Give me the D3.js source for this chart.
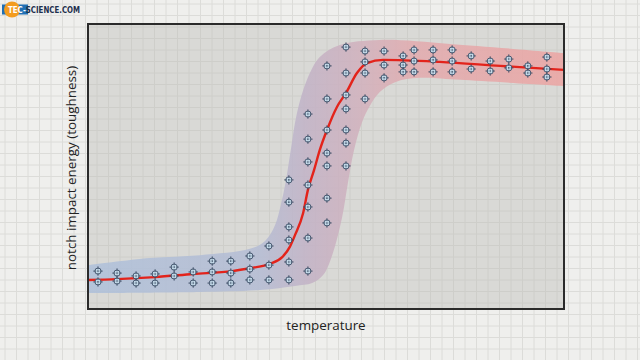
<!DOCTYPE html>
<html><head><meta charset="utf-8">
<script src="https://cdn.jsdelivr.net/npm/d3@7"></script>
<style>html,body{margin:0;padding:0;background:#efefed;}svg{display:block;}</style>
</head><body>
<svg id="chart" width="640" height="360"></svg>
<script>
// ---- data (temperature / notch impact energy, arbitrary 0-100 units) ----
const sampleTemps = [2.1, 6.1, 10.1, 14.1, 18.1, 22.1, 26.1, 30.0, 34.0, 38.0, 42.2, 46.2, 50.2, 54.2, 58.2, 62.2, 66.2, 68.5, 72.5, 76.5, 80.5, 84.5, 88.4, 92.4, 96.4];
const sampleEnergies = [
  [13.3, 9.5], [12.6, 9.8], [11.6, 9.1], [12.3, 9.1], [14.7, 11.6], [13.0, 9.1],
  [16.8, 13.0, 9.1], [16.8, 12.6, 9.1], [18.6, 14.0, 10.2], [22.1, 15.4, 10.2],
  [45.3, 37.5, 28.8, 24.2, 16.5, 10.2],
  [68.4, 59.6, 51.6, 43.5, 35.8, 24.9, 13.3],
  [85.3, 73.7, 62.8, 54.7, 50.2, 38.9, 30.2],
  [91.9, 82.8, 75.1, 70.2, 62.8, 58.2, 50.2],
  [90.5, 86.7, 82.8, 73.7], [90.5, 85.6, 81.1], [88.8, 85.6, 83.2],
  [90.9, 87.0, 83.2], [90.9, 87.4, 83.2], [90.9, 87.0, 83.2],
  [88.8, 84.2], [87.0, 83.5], [87.7, 84.6], [85.3, 82.8], [88.4, 84.2, 81.4]
];
const curveTemps    = [0, 6.1, 14.1, 22.1, 30.3, 34.2, 38.2, 40.8, 42.4, 43.5, 45.2, 46.2, 47.5, 48.7, 50.2, 52.3, 54.2, 56.5, 58.6, 62.0, 73.9, 86.6, 100];
const curveEnergies = [10.2, 10.5, 11.2, 12.3, 13.3, 14.4, 15.8, 18.2, 21.8, 26.0, 33.7, 41.8, 48.8, 55.8, 62.8, 70.9, 75.8, 82.8, 86.3, 87.4, 86.7, 85.3, 83.9];
const bandUpperTemps    = [0, 13.0, 23.5, 34.0, 37.2, 39.3, 40.5, 41.6, 42.6, 43.9, 46.0, 48.7, 52.9, 61.3, 76.1, 100];
const bandUpperEnergies = [15.4, 17.9, 18.9, 21.1, 23.9, 29.5, 36.5, 45.3, 55.8, 68.8, 80.4, 88.4, 92.6, 94.4, 93.0, 89.8];
const bandLowerTemps    = [0, 23.5, 36.1, 43.5, 47.1, 49.4, 51.3, 53.4, 54.6, 55.9, 57.6, 59.2, 61.3, 64.5, 69.7, 78.2, 100];
const bandLowerEnergies = [5.6, 6.0, 6.7, 8.1, 9.1, 11.9, 18.9, 32.3, 44.2, 55.8, 65.6, 71.2, 76.1, 79.6, 81.1, 80.4, 78.2];
const xLabel = "temperature";
const yLabel = "notch impact energy (toughness)";

const W = 640, H = 360;
const svg = d3.select("#chart");
const defs = svg.append("defs");

// ---- grid paper background ----
const gridStep = 11.5;
const bg = svg.append("g");
bg.append("rect").attr("width", W).attr("height", H).attr("fill", "#efefed");
bg.selectAll("line.v").data(d3.range(5, W, gridStep)).join("line")
  .attr("x1", d => d).attr("x2", d => d).attr("y1", 0).attr("y2", H)
  .attr("stroke", "#dcdcd9").attr("stroke-width", 1);
bg.selectAll("line.h").data(d3.range(4, H, gridStep)).join("line")
  .attr("y1", d => d).attr("y2", d => d).attr("x1", 0).attr("x2", W)
  .attr("stroke", "#dcdcd9").attr("stroke-width", 1);

// ---- scales ----
const x = d3.scaleLinear().domain([0, 100]).range([88, 564]);
const y = d3.scaleLinear().domain([0, 100]).range([309, 24]);

// plot background
svg.append("rect").attr("x", x(0)).attr("y", y(100)).attr("width", x(100) - x(0)).attr("height", y(0) - y(100))
  .attr("fill", "rgba(185,185,180,0.40)");

defs.append("clipPath").attr("id", "clip").append("rect")
  .attr("x", x(0)).attr("y", y(100)).attr("width", x(100) - x(0)).attr("height", y(0) - y(100));

// band gradient
const grad = defs.append("linearGradient").attr("id", "bandGrad")
  .attr("gradientUnits", "userSpaceOnUse").attr("x1", x(0)).attr("x2", x(100)).attr("y1", 0).attr("y2", 0);
[[0, "#aec0da"], [0.36, "#b4bcd4"], [0.46, "#c2b2c6"], [0.58, "#d2b0bc"], [0.68, "#e2aaae"], [1, "#eca4a2"]]
  .forEach(([o, c]) => grad.append("stop").attr("offset", o).attr("stop-color", c));

const plot = svg.append("g").attr("clip-path", "url(#clip)");

const upper = bandUpperTemps.map((t, i) => [x(t), y(bandUpperEnergies[i])]);
const lower = bandLowerTemps.map((t, i) => [x(t), y(bandLowerEnergies[i])]);
const lineGen = d3.line().curve(d3.curveCatmullRom.alpha(0.5));
const bandPath = lineGen(upper) + "L" + lineGen(lower.slice().reverse()).slice(1) + "Z";
plot.append("path").attr("d", bandPath).attr("fill", "url(#bandGrad)").attr("fill-opacity", 0.85);

// curve
const curvePts = curveTemps.map((t, i) => [t, curveEnergies[i]]);
plot.append("path")
  .attr("d", d3.line().x(d => x(d[0])).y(d => y(d[1])).curve(d3.curveMonotoneX)(curvePts))
  .attr("fill", "none").attr("stroke", "#e3231b").attr("stroke-width", 2.4);

// sample points
const samples = [];
sampleTemps.forEach((t, i) => sampleEnergies[i].forEach(e => samples.push([t, e])));
const pts = plot.selectAll("g.pt").data(samples).join("g")
  .attr("transform", d => `translate(${x(d[0])},${y(d[1])})`);
pts.append("circle").attr("r", 3.1).attr("fill", "#c3d9e8").attr("stroke", "#34465e").attr("stroke-width", 0.85);
pts.append("path").attr("d", "M-4.8,0H-1.8M1.8,0H4.8M0,-4.8V-1.8M0,1.8V4.8").attr("stroke", "#34465e").attr("stroke-width", 0.75);
pts.append("circle").attr("r", 0.8).attr("fill", "#34465e");

// frame
svg.append("rect").attr("x", x(0)).attr("y", y(100)).attr("width", x(100) - x(0)).attr("height", y(0) - y(100))
  .attr("fill", "none").attr("stroke", "#2b2b2b").attr("stroke-width", 2);

// axis labels
svg.append("text").attr("x", 326).attr("y", 329.5).attr("text-anchor", "middle")
  .attr("font-family", "Open Sans").attr("font-size", 13.4).attr("fill", "#222").text(xLabel);
svg.append("text").attr("transform", `translate(75.5,168) rotate(-90)`).attr("text-anchor", "middle")
  .attr("font-family", "Open Sans").attr("font-size", 13.4).attr("fill", "#222").text(yLabel);

// logo
const logo = svg.append("g");
logo.append("rect").attr("x", 2).attr("y", 4.5).attr("width", 26).attr("height", 10).attr("fill", "#1f6fb5");
logo.append("circle").attr("cx", 12).attr("cy", 9.5).attr("r", 8).attr("fill", "#f39c1f");
const lt = logo.append("text").attr("x", 8).attr("y", 12.8).attr("font-family", "DejaVu Sans Condensed, DejaVu Sans")
  .attr("font-size", 8.5).attr("font-weight", "bold").attr("textLength", 72).attr("lengthAdjust", "spacingAndGlyphs");
lt.append("tspan").attr("fill", "#ffffff").text("TEC-");
lt.append("tspan").attr("fill", "#1e2f4d").text("SCIENCE.COM");
</script>
</body></html>
